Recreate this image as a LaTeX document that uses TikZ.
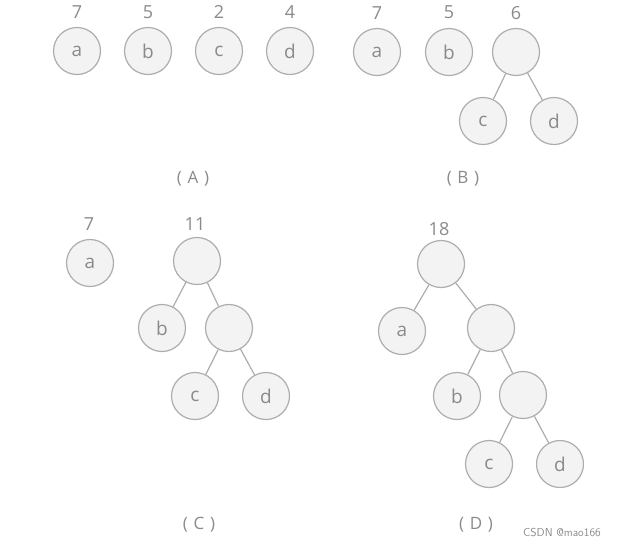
\documentclass[tikz,border=0pt]{standalone}
\usepackage{fontspec}
\setmainfont{Open Sans}
\definecolor{bordo}{HTML}{ADADAD}
\definecolor{fondo}{HTML}{F3F3F3}
\definecolor{testo}{HTML}{8A8A8A}
\begin{document}
\begin{tikzpicture}[x=1pt,y=-1pt,
  nodo/.style={circle,draw=bordo,fill=fondo,line width=1.2pt,minimum size=47pt,inner sep=0pt,text=testo,font=\fontsize{19}{19}\selectfont},
  peso/.style={text=testo,font=\fontsize{18}{18}\selectfont},
  titolo/.style={text=testo,font=\fontsize{17}{17}\selectfont},
  arco/.style={draw=bordo,line width=1.2pt}]

\useasboundingbox (0,0) rectangle (620,547);

% (A)
\node[nodo] (Aa) at (77,51) {a};
\node[nodo] (Ab) at (148,51) {b};
\node[nodo] (Ac) at (219,51) {c};
\node[nodo] (Ad) at (290,51) {d};
\node[peso] (pAa) at (77,12) {7};
\node[peso] (pAb) at (148,12) {5};
\node[peso] (pAc) at (219,12) {2};
\node[peso] (pAd) at (290,12) {4};
\node[titolo] (tA) at (193,179) {(\,\,A\,\,)};

% (B)
\node[nodo] (Ba) at (377,52) {a};
\node[nodo] (Bb) at (449,52) {b};
\node[nodo] (Bn) at (516,52) {};
\node[nodo] (Bc) at (483,121) {c};
\node[nodo] (Bd) at (554,121) {d};
\node[peso] (pBa) at (377,13) {7};
\node[peso] (pBb) at (449,12) {5};
\node[peso] (pBn) at (516,13) {6};
\draw[arco] (Bn) -- (Bc);
\draw[arco] (Bn) -- (Bd);
\node[titolo] (tB) at (463,179) {(\,\,B\,\,)};

% (C)
\node[nodo] (Ca) at (90,263) {a};
\node[nodo] (Cr) at (197,261) {};
\node[nodo] (Cb) at (162,328) {b};
\node[nodo] (Cn) at (229,328) {};
\node[nodo] (Cc) at (195,396) {c};
\node[nodo] (Cd) at (266,396) {d};
\node[peso] (pCa) at (89,224) {7};
\node[peso] (pCr) at (195,224) {11};
\draw[arco] (Cr) -- (Cb);
\draw[arco] (Cr) -- (Cn);
\draw[arco] (Cn) -- (Cc);
\draw[arco] (Cn) -- (Cd);
\node[titolo] (tC) at (199,525) {(\,\,C\,\,)};

% (D)
\node[nodo] (Dr) at (441,264) {};
\node[nodo] (Da) at (402,331) {a};
\node[nodo] (Dn) at (491,328) {};
\node[nodo] (Db) at (457,396) {b};
\node[nodo] (Dm) at (523,395) {};
\node[nodo] (Dc) at (489,464) {c};
\node[nodo] (Dd) at (560,464) {d};
\node[peso] (pDr) at (439,229) {18};
\draw[arco] (Dr) -- (Da);
\draw[arco] (Dr) -- (Dn);
\draw[arco] (Dn) -- (Db);
\draw[arco] (Dn) -- (Dm);
\draw[arco] (Dm) -- (Dc);
\draw[arco] (Dm) -- (Dd);
\node[titolo] (tD) at (476,525) {(\,\,D\,\,)};

\node[text=testo,font=\fontsize{11.5}{11.5}\sffamily] (firma) at (562,532) {CSDN @mao166};

\end{tikzpicture}
\end{document}
